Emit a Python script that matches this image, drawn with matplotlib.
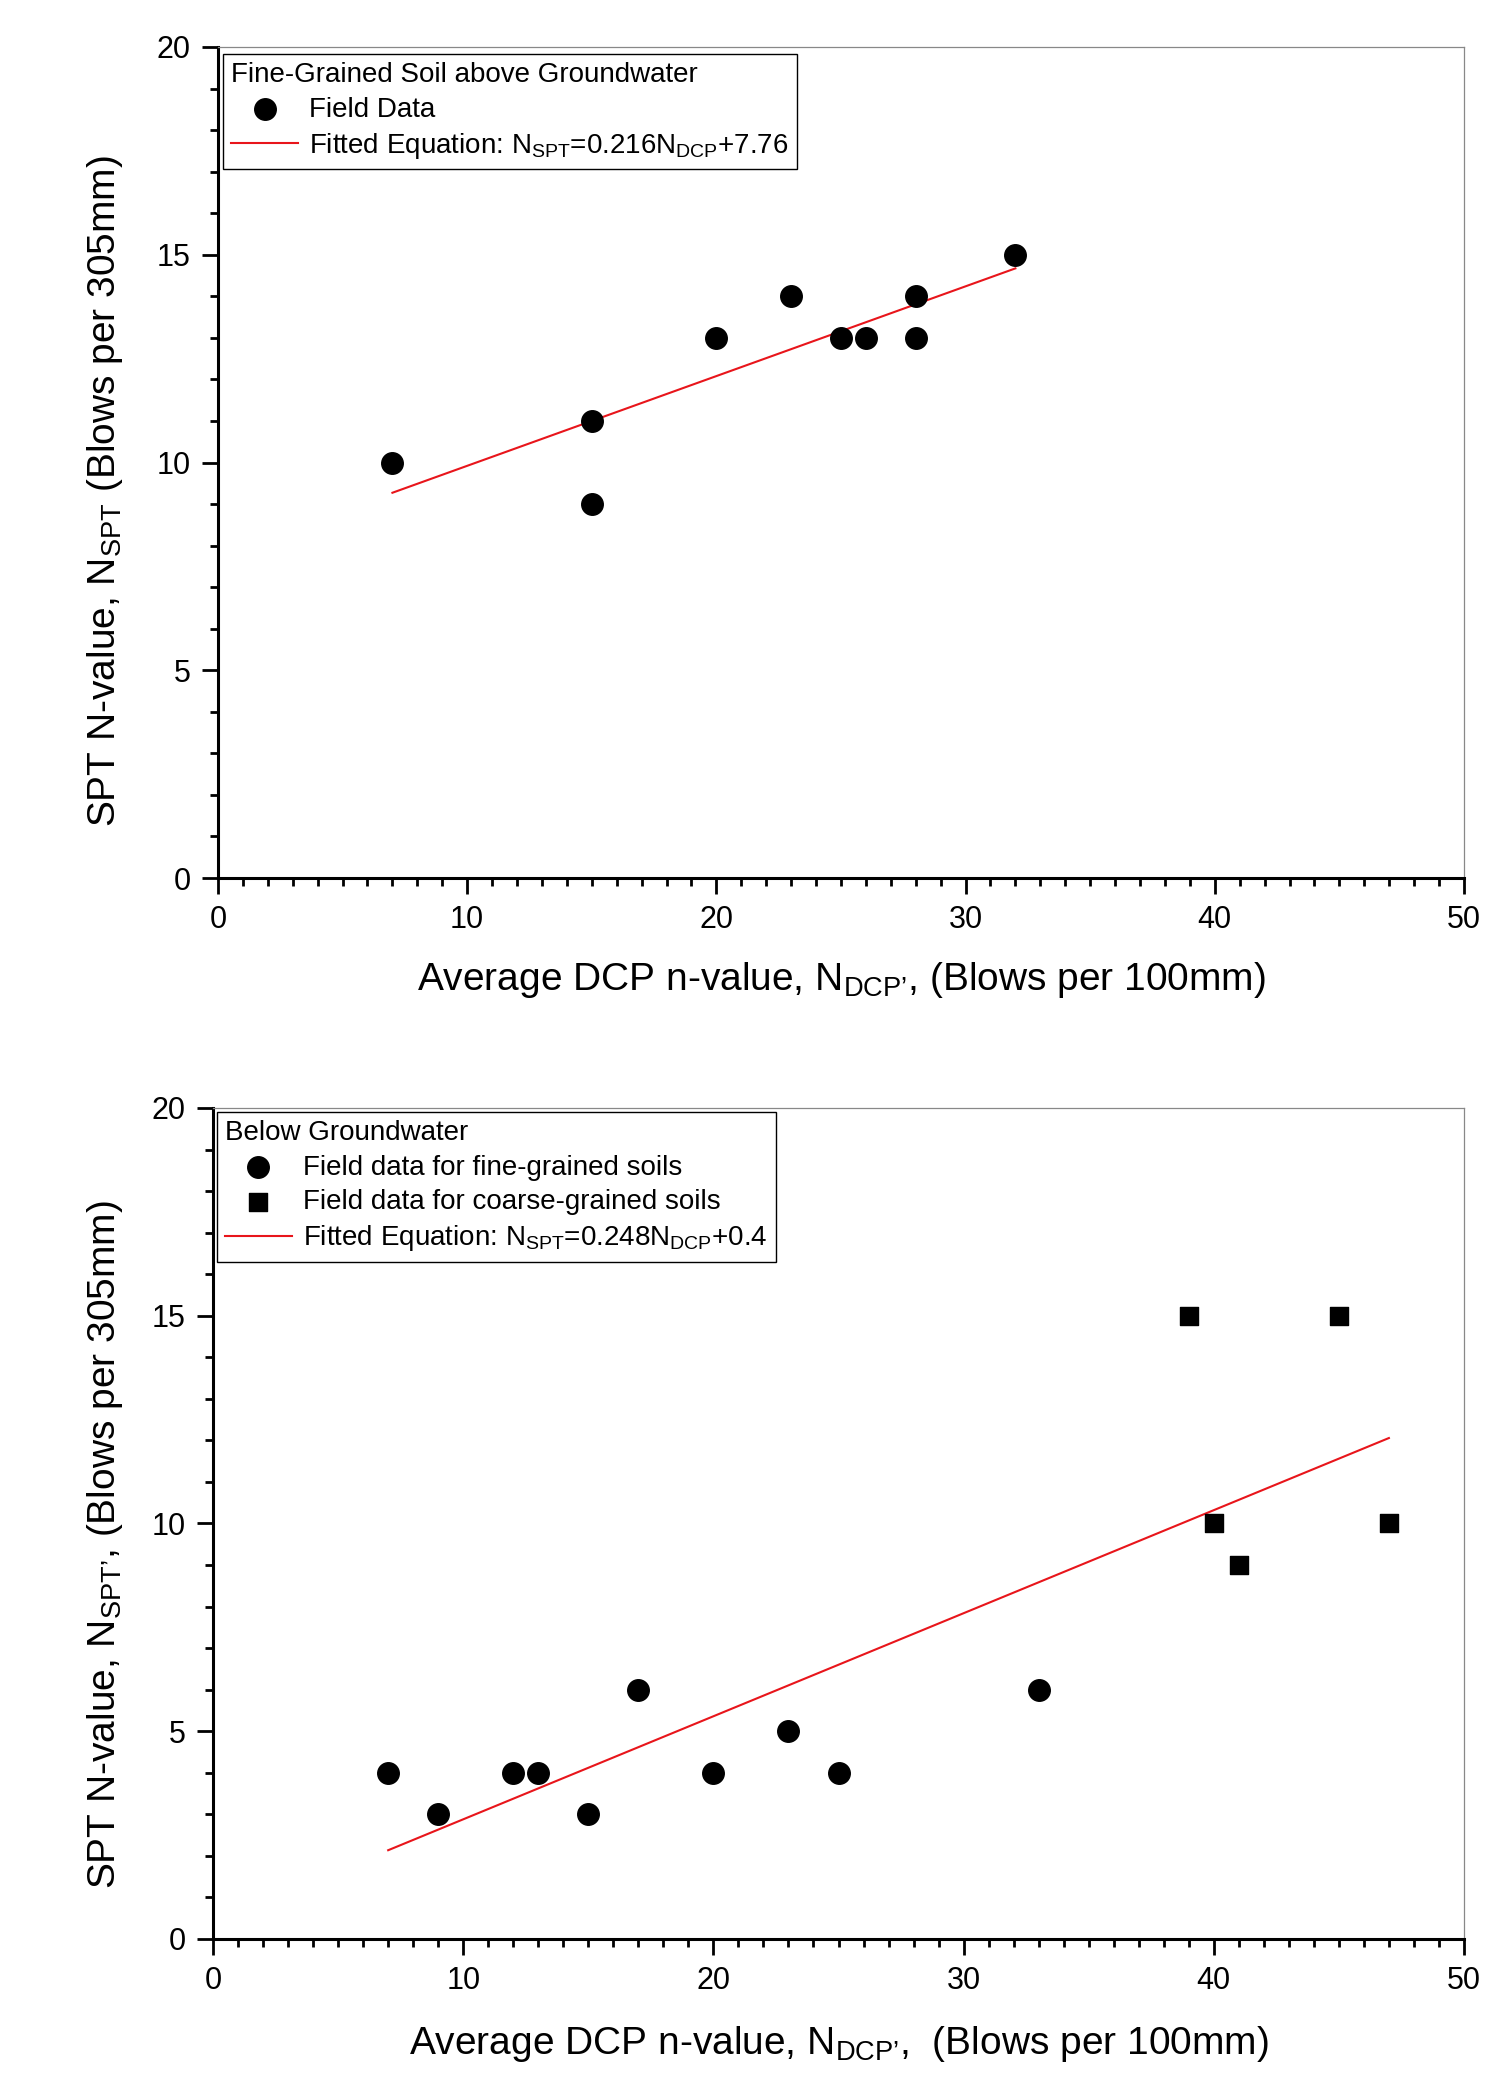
import matplotlib
matplotlib.use("Agg")
import matplotlib.pyplot as plt
from matplotlib import font_manager
from matplotlib.ticker import MultipleLocator

# ---------------- data ----------------
top_x = [7, 15, 15, 20, 23, 25, 26, 28, 28, 32]
top_y = [10, 11, 9, 13, 14, 13, 13, 14, 13, 15]
top_slope, top_icpt = 0.216, 7.76
top_fit_x = [7, 32]

fine_x = [7, 9, 12, 13, 15, 17, 20, 23, 25, 33]
fine_y = [4, 3, 4, 4, 3, 6, 4, 5, 4, 6]
coarse_x = [39, 40, 41, 45, 47]
coarse_y = [15, 10, 9, 15, 10]
bot_slope, bot_icpt = 0.248, 0.4
bot_fit_x = [7, 47]

# ---------------- fonts ----------------
names = {f.name for f in font_manager.fontManager.ttflist}
narrow = "Liberation Sans Narrow" if "Liberation Sans Narrow" in names else "Liberation Sans"
plt.rcParams["font.family"] = ["Liberation Sans", "DejaVu Sans"]
plt.rcParams["mathtext.fontset"] = "custom"
plt.rcParams["mathtext.rm"] = narrow
plt.rcParams["mathtext.it"] = narrow
plt.rcParams["mathtext.default"] = "rm"

fig = plt.figure(figsize=(14.92, 20.98), dpi=100)
ax1 = fig.add_axes([0.1461, 0.5815, 0.8351, 0.3961])
ax2 = fig.add_axes([0.1428, 0.0758, 0.8384, 0.3961])


def style(ax):
    ax.set_xlim(0, 50)
    ax.set_ylim(0, 20)
    ax.xaxis.set_major_locator(MultipleLocator(10))
    ax.xaxis.set_minor_locator(MultipleLocator(1))
    ax.yaxis.set_major_locator(MultipleLocator(5))
    ax.yaxis.set_minor_locator(MultipleLocator(1))
    for s in ("left", "bottom"):
        ax.spines[s].set_linewidth(2.2)
        ax.spines[s].set_color("black")
    for s in ("top", "right"):
        ax.spines[s].set_linewidth(0.9)
        ax.spines[s].set_color("#888888")
    ax.tick_params(which="both", direction="out", top=False, right=False,
                   width=2.0, color="black")
    ax.tick_params(which="major", length=11.5, pad=8, labelsize=22)
    ax.tick_params(which="minor", length=6)


lab_font = dict(family=[narrow, "Liberation Sans"], fontsize=28)
leg_font = dict(family=[narrow, "Liberation Sans"], size=20)
leg_kw = dict(loc="upper left", borderaxespad=0, alignment="left", prop=leg_font,
              title_fontproperties=leg_font, fancybox=False, edgecolor="black",
              framealpha=1, handlelength=2.4, handletextpad=0.4, labelspacing=0.3,
              borderpad=0.3, scatterpoints=1)

# ---------------- top panel ----------------
ax1.scatter(top_x, top_y, s=15.5 ** 2, marker="o", color="black", zorder=3,
            label="Field Data", clip_on=False)
ax1.plot(top_fit_x, [top_slope * v + top_icpt for v in top_fit_x], color="#e8151b",
         lw=1.5, label="Fitted Equation: N$_{\\mathrm{SPT}}$=0.216N$_{\\mathrm{DCP}}$+7.76")
style(ax1)
ax1.set_xlabel("Average DCP n-value, N$_{\\mathrm{DCP’}}$, (Blows per 100mm)", labelpad=18, **lab_font)
ax1.set_ylabel("SPT N-value, N$_{\\mathrm{SPT}}$ (Blows per 305mm)", **lab_font)
ax1.yaxis.set_label_coords(-0.075, 0.466)
leg1 = ax1.legend(bbox_to_anchor=(0.004, 0.9916),
                  title="Fine-Grained Soil above Groundwater", **leg_kw)
leg1.get_frame().set_linewidth(1.0)

# ---------------- bottom panel ----------------
ax2.scatter(fine_x, fine_y, s=15.5 ** 2, marker="o", color="black", zorder=3,
            label="Field data for fine-grained soils", clip_on=False)
ax2.scatter(coarse_x, coarse_y, s=13 ** 2, marker="s", color="black", zorder=3,
            label="Field data for coarse-grained soils", clip_on=False)
ax2.plot(bot_fit_x, [bot_slope * v + bot_icpt for v in bot_fit_x], color="#e8151b",
         lw=1.5, label="Fitted Equation: N$_{\\mathrm{SPT}}$=0.248N$_{\\mathrm{DCP}}$+0.4")
style(ax2)
ax2.set_xlabel("Average DCP n-value, N$_{\\mathrm{DCP’}}$,  (Blows per 100mm)", labelpad=20, **lab_font)
ax2.set_ylabel("SPT N-value, N$_{\\mathrm{SPT’}}$, (Blows per 305mm)", **lab_font)
ax2.yaxis.set_label_coords(-0.07, 0.474)
leg2 = ax2.legend(bbox_to_anchor=(0.003, 0.995), title="Below Groundwater", **leg_kw)
leg2.get_frame().set_linewidth(1.0)

fig.savefig("out.png", dpi=100, facecolor="white")
